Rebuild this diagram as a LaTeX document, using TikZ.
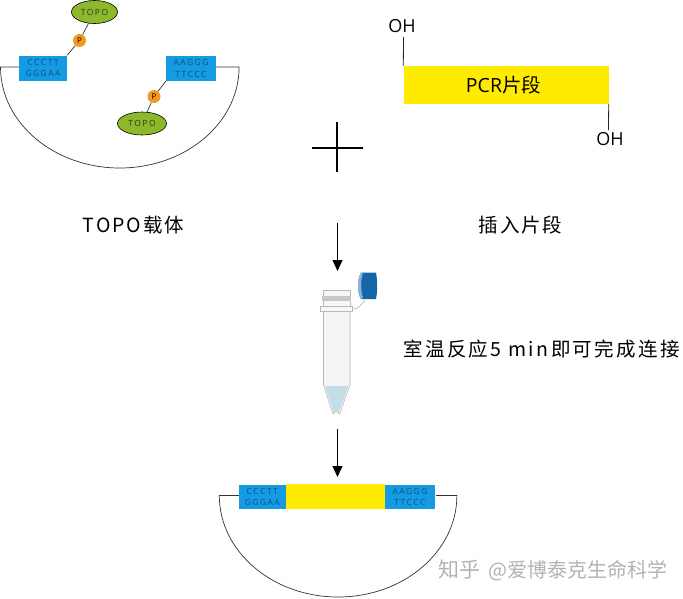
\documentclass[tikz,border=0pt]{standalone}
\usepackage{fontspec}
\setmainfont{Open Sans}
\newfontfamily\cjk{Noto Sans CJK SC}
\newfontfamily\cjkspaced[LetterSpace=10]{Noto Sans CJK SC}
\newfontfamily\cjkwide[LetterSpace=12.4]{Noto Sans CJK SC}
\usetikzlibrary{arrows.meta,shapes.geometric}
\definecolor{bluebox}{HTML}{149BE4}
\definecolor{seq}{HTML}{12507F}
\definecolor{topog}{HTML}{8DB82A}
\definecolor{porange}{HTML}{F39A1E}
\definecolor{yell}{HTML}{FFEB00}
\definecolor{capblue}{HTML}{1566A8}
\tikzset{
 x=1pt,y=-1pt,
 seqbox/.style={fill=bluebox,draw=none,inner sep=0pt,align=center,text=seq,font=\fontsize{8.5}{11.5}\selectfont},
 topo/.style={ellipse,fill=topog,draw=black,line width=.6pt,inner sep=0pt,font=\fontsize{8.5}{10}\selectfont,text=black!80},
 phos/.style={circle,fill=porange,draw=none,minimum size=13pt,inner sep=0pt,font=\fontsize{8}{9}\selectfont},
 backbone/.style={draw=black!80,line width=.7pt},
 lbl/.style={font=\fontsize{18}{20}\selectfont,inner sep=0pt},
 cjklbl/.style={font=\cjkspaced\fontsize{19.5}{22}\selectfont,inner sep=0pt},
 flow/.style={-{Triangle[length=11pt,width=10pt]},line width=1.3pt,black},
 tubeline/.style={draw=black!28,line width=.6pt},
}
\begin{document}
\begin{tikzpicture}
\useasboundingbox (0,0) rectangle (683,598);
% top vector
\draw[backbone] (19,67) -- (0.5,67) arc[start angle=180,end angle=0,x radius=119.3,y radius=101] -- (216,67);
\node[seqbox,minimum width=48pt,minimum height=25pt] (b1) at (43,68) {C\,C\,C\,T\,T\\G\,G\,G\,A\,A};
\node[seqbox,minimum width=50pt,minimum height=25pt] (b2) at (191,68.5) {A\,A\,G\,G\,G\\T\,T\,C\,C\,C};
\node[topo,minimum width=46pt,minimum height=23pt] (t1) at (94.5,12) {T\,O\,P\,O};
\node[topo,minimum width=49pt,minimum height=23pt] (t2) at (142,123.5) {T\,O\,P\,O};
\node[phos] (p1) at (79.5,40.5) {P};
\node[phos] (p2) at (154,96.5) {P};
\draw[backbone] (t1) -- (p1);
\draw[backbone] (p1) -- (b1.north east);
\draw[backbone] (b2.south west) -- (p2);
\draw[backbone] (p2) -- (t2);
% PCR
\node[fill=yell,minimum width=205pt,minimum height=38pt,inner sep=0pt] (pcr) at (506,85) {};
\node[inner sep=0pt,font=\fontsize{19.5}{22}\selectfont] (pcrt) at (503.5,85) {PCR{\cjk 片段}};
\node[lbl] (oh1) at (402,26) {OH};
\node[lbl] (oh2) at (610,139) {OH};
\draw[line width=.8pt,black!85] (pcr.north west) -- (403.5,37);
\draw[line width=.8pt,black!85] (pcr.south east) -- (608.5,130);
% plus
\coordinate (pl) at (312,148); \coordinate (pr) at (363,148);
\coordinate (pt) at (337,122); \coordinate (pb) at (337,172);
\draw[line width=1.3pt] (pl) -- (pr) (pt) -- (pb);
% labels
\node[cjklbl] (l1) at (133.5,225) {TOPO载体};
\node[cjklbl] (l2) at (520.5,225) {插入片段};
\node[cjklbl,font=\cjkwide\fontsize{19.5}{22}\selectfont,anchor=west] (l3) at (403,349) {室温反应5 min即可完成连接};
% arrows
\coordinate (a1) at (337.5,223); \coordinate (a2) at (337.5,271);
\coordinate (a3) at (337.5,429); \coordinate (a4) at (337.5,477);
\draw[flow] (a1) -- (a2);
\draw[flow] (a3) -- (a4);
% tube
\fill[black!4] (323.5,311) -- (323.5,385) -- (333,414) arc[start angle=200,end angle=340,radius=3.5] -- (350,385) -- (350,311) -- cycle;
\fill[cyan!50!gray!35] (325,386) -- (348.5,386) -- (338.5,413) arc[start angle=340,end angle=200,radius=2.5] -- cycle;
\draw[tubeline] (323.5,311) -- (323.5,385) -- (333,414) arc[start angle=200,end angle=340,radius=3.5] -- (350,385) -- (350,311);
\draw[tubeline,fill=black!3] (320.5,306) rectangle (352,311);
\draw[tubeline,fill=black!3] (323.5,290.5) rectangle (350,306);
\fill[black!22] (322,295.5) rectangle (351,300.5);
\draw[black!30,line width=.6pt] (352,309) .. controls (360,309) and (361,304) .. (365,300);
\fill[capblue] (361,272.5) -- (376,272.5) .. controls (377.5,280) and (377.5,292) .. (376,299) -- (361,299) .. controls (357,292) and (357,280) .. (361,272.5) -- cycle;
\fill[cyan!50!blue!45] (361,272.5) .. controls (357,280) and (357,292) .. (361,299) .. controls (362,297) and (364,297) .. (363.5,299) .. controls (360.5,292) and (360.5,280) .. (363,272.5) -- cycle;
% bottom vector
\draw[backbone] (239,495.5) -- (219.3,495.5) arc[start angle=180,end angle=0,x radius=118.8,y radius=101.5] -- (436,495.5);
\node[fill=yell,minimum width=99pt,minimum height=24.5pt,inner sep=0pt] (y) at (335.5,496.5) {};
\node[seqbox,minimum width=47pt,minimum height=24.5pt] (c1) at (262.3,497) {C\,C\,C\,T\,T\\G\,G\,G\,A\,A};
\node[seqbox,minimum width=50pt,minimum height=24.5pt] (c2) at (410,497) {A\,A\,G\,G\,G\\T\,T\,C\,C\,C};
% watermark
\node[font=\cjk\fontsize{21}{24}\selectfont,text=black!30,inner sep=0pt] (z) at (459,570) {知乎};
\node[font=\cjk\fontsize{20}{24}\selectfont,text=black!30,inner sep=0pt,anchor=west] (w) at (488,570.5) {@爱博泰克生命科学};
\end{tikzpicture}
\end{document}
